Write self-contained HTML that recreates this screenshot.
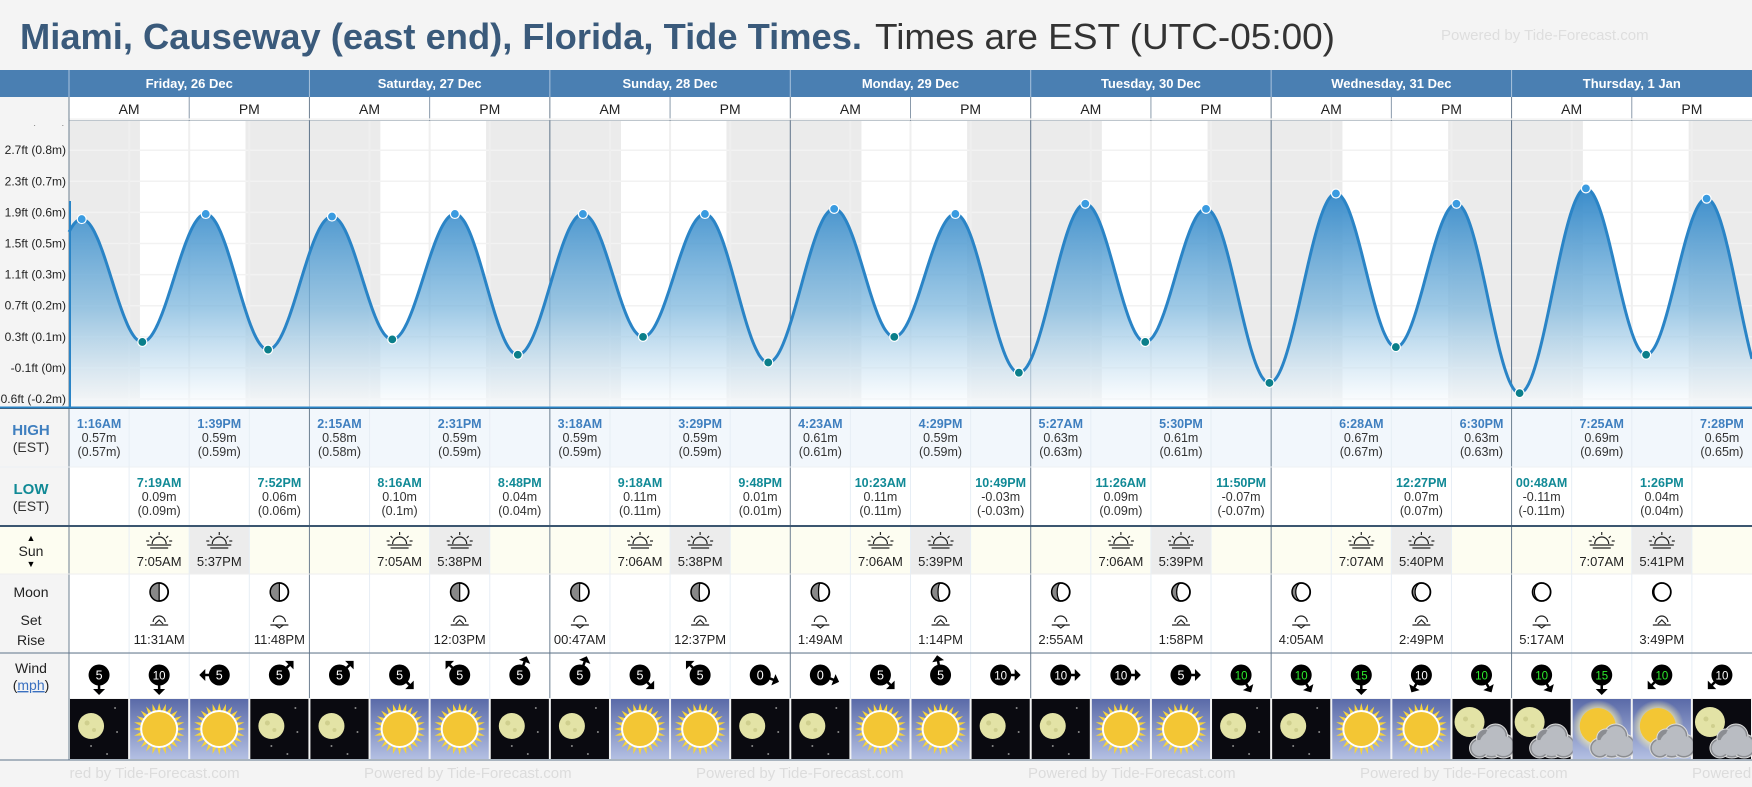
<!DOCTYPE html>
<html><head><meta charset="utf-8">
<style>
html,body{margin:0;padding:0;background:#f4f4f4;}
svg{display:block;font-family:"Liberation Sans",sans-serif;}
</style></head>
<body>
<svg id="c" width="1752" height="787" viewBox="0 0 1752 787" xmlns="http://www.w3.org/2000/svg">
<defs>
<linearGradient id="tfill" x1="0" y1="0" x2="0" y2="1">
<stop offset="0" stop-color="#2f86c8" stop-opacity="0.95"/>
<stop offset="0.55" stop-color="#7fb8de" stop-opacity="0.75"/>
<stop offset="1" stop-color="#ffffff" stop-opacity="0.6"/>
</linearGradient>
<linearGradient id="dsky" x1="0" y1="0" x2="0" y2="1">
<stop offset="0" stop-color="#5a6aa8"/><stop offset="1" stop-color="#b3bfe2"/>
</linearGradient>
<radialGradient id="sunglow"><stop offset="0.5" stop-color="#fff6b0"/><stop offset="1" stop-color="#fff6b0" stop-opacity="0"/></radialGradient>
</defs>
<rect x="0" y="0" width="1752" height="787" fill="#f4f4f4"/>
<text x="20" y="49" font-size="36" font-weight="bold" fill="#3a5a7b" textLength="842" lengthAdjust="spacingAndGlyphs">Miami, Causeway (east end), Florida, Tide Times.</text>
<text x="875" y="49" font-size="36" fill="#333" textLength="460" lengthAdjust="spacingAndGlyphs">Times are EST (UTC-05:00)</text>
<text x="1441" y="40" font-size="15" fill="#dedede">Powered by Tide-Forecast.com</text>
<g id="g"></g>
</svg>
<script>
// ---- data ----
const days = ["Friday, 26 Dec","Saturday, 27 Dec","Sunday, 28 Dec","Monday, 29 Dec","Tuesday, 30 Dec","Wednesday, 31 Dec","Thursday, 1 Jan"];
const tideHours = [-4.9,1.27,7.32,13.65,19.87,26.25,32.27,38.52,44.8,51.3,57.3,63.48,69.8,76.38,82.38,88.48,94.82,101.45,107.43,113.5,119.83,126.47,132.45,138.5,144.8,151.42,157.43,163.47,169.8];
const tideMeters = [0.07,0.57,0.09,0.59,0.06,0.58,0.10,0.59,0.04,0.59,0.11,0.59,0.01,0.61,0.11,0.59,-0.03,0.63,0.09,0.61,-0.07,0.67,0.07,0.63,-0.11,0.69,0.04,0.65,-0.12];
const tideTypes = ["x","H","L","H","L","H","L","H","L","H","L","H","L","H","L","H","L","H","L","H","L","H","L","H","L","H","L","H","x"];
const tideLabels = ["","1:16AM","7:19AM","1:39PM","7:52PM","2:15AM","8:16AM","2:31PM","8:48PM","3:18AM","9:18AM","3:29PM","9:48PM","4:23AM","10:23AM","4:29PM","10:49PM","5:27AM","11:26AM","5:30PM","11:50PM","6:28AM","12:27PM","6:30PM","00:48AM","7:25AM","1:26PM","7:28PM",""];
const tickLabels = ["-0.6ft (-0.2m)","-0.1ft (0m)","0.3ft (0.1m)","0.7ft (0.2m)","1.1ft (0.3m)","1.5ft (0.5m)","1.9ft (0.6m)","2.3ft (0.7m)","2.7ft (0.8m)","3.0ft (0.9m)"];
const sunriseH = [7.08,7.08,7.10,7.10,7.10,7.12,7.12];
const sunsetH = [17.62,17.63,17.63,17.65,17.65,17.67,17.68];
const sunriseLbl = ["7:05AM","7:05AM","7:06AM","7:06AM","7:06AM","7:07AM","7:07AM"];
const sunsetLbl = ["5:37PM","5:38PM","5:38PM","5:39PM","5:39PM","5:40PM","5:41PM"];
const moonCols = [1,3,6,8,10,12,14,16,18,20,22,24,26];
const moonLbl = ["11:31AM","11:48PM","12:03PM","00:47AM","12:37PM","1:49AM","1:14PM","2:55AM","1:58PM","4:05AM","2:49PM","5:17AM","3:49PM"];
const moonRise = [1,0,1,0,1,0,1,0,1,0,1,0,1];
const moonDark = [0.5,0.5,0.5,0.48,0.45,0.4,0.36,0.3,0.26,0.2,0.15,0.1,0.06];
const windSpeed = [5,10,5,5, 5,5,5,5, 5,5,5,0, 0,5,5,10, 10,10,5,10, 10,15,10,10, 10,15,10,10];
const windDir = [0,0,90,225, 225,315,135,200, 200,315,135,290, 290,315,170,270, 270,270,270,330, 330,0,30,330, 330,0,45,45];
const windGreen = [0,0,0,0, 0,0,0,0, 0,0,0,0, 0,0,0,0, 0,0,0,1, 1,1,0,1, 1,1,1,0];
const weather = ["n","d","d","n","n","d","d","n","n","d","d","n","n","d","d","n","n","d","d","n","n","d","d","nc","nc","dc","dc","nc"];

// ---- layout ----
const NS="http://www.w3.org/2000/svg";
const G=document.getElementById('g');
const L=69, W=1752, DW=(W-L)/7, CW=DW/4;
const CT=121, CB=407;
const xH = h => L + h*DW/24;
const yM = m => 365 - m*256;
const yTick = i => 399 - 31.1*i;
function el(tag, attrs, parent, txt){
  const e=document.createElementNS(NS,tag);
  for(const k in attrs) e.setAttribute(k,attrs[k]);
  if(txt!==undefined) e.textContent=txt;
  (parent||G).appendChild(e); return e;
}
function grp(name){const g=el('g',{});


return g;}

// header
const hdr=grp('day-header');
el('rect',{x:0,y:70,width:W,height:27,fill:'#4a7fb2'},hdr);
days.forEach((d,i)=>{
  const t=el('text',{x:L+DW*i+DW/2,y:88,'font-size':13,'font-weight':'bold',fill:'#fff','text-anchor':'middle'},hdr,d);
  
  
  el('line',{x1:L+DW*i,y1:70,x2:L+DW*i,y2:97,stroke:'#a9c3dd'},hdr);
});
const ap=grp('am-pm-row');
el('rect',{x:L,y:97,width:W-L,height:24,fill:'#fff'},ap);
for(let i=0;i<14;i++){
  el('line',{x1:L+DW/2*i,y1:97,x2:L+DW/2*i,y2:121,stroke:i%2?'#8a9aab':'#6d7f91'},ap);
  const t=el('text',{x:L+DW/2*i+DW/4,y:114,'font-size':14,fill:'#222','text-anchor':'middle'},ap,i%2?'PM':'AM');
  
  
}
el('line',{x1:L,y1:121,x2:W,y2:121,stroke:'#7d8c9b'},ap);

// chart background (night shading)
const bg=grp('chart-background');
el('rect',{x:L,y:CT,width:W-L,height:CB-CT,fill:'#ebebeb'},bg);
for(let d=0;d<7;d++){
  el('rect',{x:xH(d*24+sunriseH[d]),y:CT,width:xH(sunsetH[d])-xH(sunriseH[d]),height:CB-CT,fill:'#fff'},bg);
}
for(let i=0;i<10;i++) el('line',{x1:L,y1:yTick(i),x2:W,y2:yTick(i),stroke:'#f2f2f2','stroke-width':1.5},bg);
for(let i=0;i<28;i++) el('line',{x1:L+CW*i,y1:CT,x2:L+CW*i,y2:CB,stroke:i%4?'#efefef':'#5e738a','stroke-width':i%4?2:1},bg);
// y ticks
const ax=grp('y-axis');
tickLabels.forEach((s,i)=>{
  const t=el('text',{x:66,y:yTick(i)+4,'font-size':12,fill:'#222','text-anchor':'end'},ax,s);
  
  
});
el('rect',{x:0,y:97,width:L-1,height:28,fill:'#f4f4f4'},ax);
el('line',{x1:L,y1:97,x2:L,y2:CB,stroke:'#6d7f91'},ax);

// tide curve
function tideAt(h){
  for(let i=0;i<tideHours.length-1;i++){
    if(h>=tideHours[i]&&h<=tideHours[i+1]){
      const t=(h-tideHours[i])/(tideHours[i+1]-tideHours[i]);
      const f=(1-Math.cos(Math.PI*t))/2;
      return tideMeters[i]+(tideMeters[i+1]-tideMeters[i])*f;
    }
  }
  return tideMeters[tideMeters.length-1];
}
let pts=[];
for(let x=L;x<=W;x+=1.5){const h=(x-L)*24/DW;pts.push([x,yM(tideAt(h))]);}
const line=pts.map((p,i)=>(i?'L':'M')+p[0].toFixed(1)+','+p[1].toFixed(1)).join('');
const area=el('path',{d:line+`L${W},${CB}L${L},${CB}Z`,fill:'url(#tfill)'});


const tl=el('path',{d:line,fill:'none',stroke:'#2a84c6','stroke-width':3});


el('line',{x1:L+1,y1:CT+80,x2:L+1,y2:CB,stroke:'#2a84c6','stroke-width':2});
tideHours.forEach((h,i)=>{
  if(tideTypes[i]==='x')return;
  const c=el('circle',{cx:xH(h),cy:yM(tideMeters[i]),r:4.5,fill:tideTypes[i]==='H'?'#3a9be0':'#0b7f8a',stroke:'#fff','stroke-width':1.2});
  
  
});
el('line',{x1:0,y1:CB+0.5,x2:W,y2:CB+0.5,stroke:'#2a84c6','stroke-width':2});
el('line',{x1:0,y1:CB+2,x2:W,y2:CB+2,stroke:'#3c5670','stroke-width':1.5});

// table rows
const tb=grp('tide-table');
el('rect',{x:0,y:409,width:L,height:351,fill:'#f4f4f4'},tb);
el('rect',{x:L,y:409,width:W-L,height:58,fill:'#f2f7fc'},tb);
el('rect',{x:L,y:467,width:W-L,height:59,fill:'#fff'},tb);
el('rect',{x:L,y:527,width:W-L,height:47,fill:'#fdfdf1'},tb);
el('rect',{x:0,y:527,width:L,height:47,fill:'#fdfdf1'},tb);
el('rect',{x:L,y:574,width:W-L,height:79,fill:'#fff'},tb);
el('rect',{x:L,y:654,width:W-L,height:44,fill:'#fff'},tb);
for(let d=0;d<7;d++) el('rect',{x:L+DW*d+CW*2,y:527,width:CW,height:47,fill:'#ececec'},tb);
for(let i=1;i<28;i++) el('line',{x1:L+CW*i,y1:409,x2:L+CW*i,y2:698,stroke:i%4?'#e7eef5':'#6d7f91'},tb);
el('line',{x1:L,y1:409,x2:L,y2:760,stroke:'#6d7f91'},tb);
el('line',{x1:0,y1:467,x2:W,y2:467,stroke:'#edf0f3'},tb);
el('line',{x1:0,y1:526,x2:W,y2:526,stroke:'#3c5670','stroke-width':2},tb);
el('line',{x1:0,y1:574,x2:W,y2:574,stroke:'#eeeeee'},tb);
el('line',{x1:0,y1:653,x2:W,y2:653,stroke:'#5e738a'},tb);
el('line',{x1:0,y1:760,x2:W,y2:760,stroke:'#5e738a'},tb);
// labels
function lab(x,y,s,sz,col,bold,name){const t=el('text',{x:x,y:y,'font-size':sz,fill:col,'text-anchor':'middle','font-weight':bold?'bold':'normal'},tb,s);

return t;}
lab(31,435,'HIGH',15,'#3f7fbf',1,'high-row-label');lab(31,452,'(EST)',14,'#333',0,'high-row-unit');
lab(31,494,'LOW',15,'#118a96',1,'low-row-label');lab(31,511,'(EST)',14,'#333',0,'low-row-unit');
lab(31,541,'▲',9,'#000',0,'sun-up-arrow');lab(31,556,'Sun',14,'#222',0,'sun-row-label');lab(31,567,'▼',9,'#000',0,'sun-down-arrow');
lab(31,597,'Moon',14,'#222',0,'moon-row-label');lab(31,625,'Set',14,'#222',0,'moon-set-label');lab(31,645,'Rise',14,'#222',0,'moon-rise-label');
lab(31,673,'Wind',14,'#222',0,'wind-row-label');
const wu=el('text',{x:31,y:690,'font-size':14,fill:'#222','text-anchor':'middle'},tb);


wu.innerHTML='(<tspan fill="#3a70c0" text-decoration="underline">mph</tspan>)';

// tide table entries
tideHours.forEach((h,i)=>{
  if(tideTypes[i]==='x')return;
  const col=Math.floor(h/6), cx=L+CW*col+CW/2;
  const hi=tideTypes[i]==='H', y0=hi?428:487;
  const t=lab(cx,y0,tideLabels[i],12.5,hi?'#3f7fbf':'#118a96',1,hi?'high-tide-time':'low-tide-time');
  lab(cx,y0+14,tideMeters[i].toFixed(2)+'m',12.5,'#333',0,'tide-height');
  lab(cx,y0+28,'('+(+tideMeters[i].toFixed(2))+'m)',12.5,'#333',0,'tide-height-alt');
});
// sun
function sunIcon(cx,cy,p){
  const g=el('g',{fill:'none',stroke:'#222','stroke-width':1.2},p);
  el('path',{d:`M${cx-7},${cy} A7,7 0 0 1 ${cx+7},${cy}`},g);
  el('line',{x1:cx-12,y1:cy+1,x2:cx+12,y2:cy+1},g);
  el('line',{x1:cx-9,y1:cy+4,x2:cx+9,y2:cy+4},g);
  [[0,-12,0,-9],[-9,-8,-7,-6],[9,-8,7,-6],[-13,-3,-10,-3],[13,-3,10,-3]].forEach(a=>el('line',{x1:cx+a[0],y1:cy+a[1],x2:cx+a[2],y2:cy+a[3]},g));
}
for(let d=0;d<7;d++){
  const c1=L+DW*d+CW*1.5, c2=L+DW*d+CW*2.5;
  sunIcon(c1,544,tb);sunIcon(c2,544,tb);
  lab(c1,566,sunriseLbl[d],13,'#222',0,'sunrise-time');
  lab(c2,566,sunsetLbl[d],13,'#222',0,'sunset-time');
}
// moon
moonCols.forEach((c,i)=>{
  const cx=L+CW*c+CW/2, cy=592, r=9, f=moonDark[i];
  const g=grp('moon-phase-icon');
  el('circle',{cx:cx,cy:cy,r:r,fill:'#fff',stroke:'#000','stroke-width':1.8},g);
  const rx=Math.abs(r*(1-2*f));
  el('path',{d:`M${cx},${cy-r} A${r},${r} 0 0 0 ${cx},${cy+r} A${rx},${r} 0 0 1 ${cx},${cy-r}Z`,fill:'#888',stroke:'#000','stroke-width':1.2},g);
  const m=grp(moonRise[i]?'moonrise-icon':'moonset-icon');
  const iy=622;
  el('path',{d:`M${cx-6},${iy} A6,6 0 0 1 ${cx+6},${iy}`,fill:'none',stroke:'#222','stroke-width':1.2},m);
  el('line',{x1:cx-9,y1:iy+3,x2:cx+9,y2:iy+3,stroke:'#222','stroke-width':1.2},m);
  el('path',{d:moonRise[i]?`M${cx-4},${iy+2} L${cx},${iy-2} L${cx+4},${iy+2}`:`M${cx-4},${iy+3} L${cx},${iy+6} L${cx+4},${iy+3}`,fill:'none',stroke:'#222','stroke-width':1.2},m);
  lab(cx,644,moonLbl[i],13,'#222',0,'moon-time');
});
// wind
windSpeed.forEach((v,i)=>{
  const cx=L+CW*i+CW/2, cy=675;
  const g=el('g',{});
  
  
  const a=el('g',{transform:`rotate(${windDir[i]} ${cx} ${cy})`},g);
  el('line',{x1:cx,y1:cy+8,x2:cx,y2:cy+16,stroke:'#000','stroke-width':2.5},a);
  el('path',{d:`M${cx-6},${cy+14} L${cx+6},${cy+14} L${cx},${cy+20}Z`,fill:'#000'},a);
  el('circle',{cx:cx,cy:cy,r:10.5,fill:'#000'},g);
  el('text',{x:cx,y:cy+4.5,'font-size':v>=10?11.5:12.5,fill:windGreen[i]?'#2dea2d':'#fff','text-anchor':'middle'},g,String(v));
});
// weather icons
function moonW(cx,cy,r,g){
  el('circle',{cx:cx,cy:cy,r:r,fill:'#e3e3a6'},g);
  el('circle',{cx:cx-4,cy:cy-3,r:2.5,fill:'#cfcf8e'},g);
  el('circle',{cx:cx+3,cy:cy+4,r:2,fill:'#cfcf8e'},g);
}
function sunW(cx,cy,g){
  let d='';
  for(let k=0;k<24;k++){const a=k*Math.PI/12, b=a+Math.PI/24, c=a-Math.PI/24;
    d+=`M${cx+17*Math.cos(c)},${cy+17*Math.sin(c)}L${cx+26*Math.cos(a)},${cy+26*Math.sin(a)}L${cx+17*Math.cos(b)},${cy+17*Math.sin(b)}Z`;}
  el('path',{d:d,fill:'#f7d43a'},g);
  el('circle',{cx:cx,cy:cy,r:19,fill:'#fff'},g);
  el('circle',{cx:cx,cy:cy,r:17,fill:'#f3c634'},g);
}
function cloud(cx,cy,g){
  [[0,4,14],[-12,8,10],[12,6,12],[4,-4,12],[-6,-2,9]].forEach(c=>el('circle',{cx:cx+c[0],cy:cy+c[1],r:c[2],fill:'#8b8d92',stroke:'#dcdcdc','stroke-width':1},g));
  [[0,4,12],[-12,8,8],[12,6,10],[4,-4,10]].forEach(c=>el('circle',{cx:cx+c[0],cy:cy+c[1],r:c[2],fill:'#b9bcc2'},g));
}
weather.forEach((w,i)=>{
  const x0=L+CW*i+1, cx=x0+CW/2-1, g=el('g',{});
  
  
  const night=w[0]==='n';
  el('rect',{x:x0,y:699,width:CW-2,height:60,fill:night?'#0a0a10':'url(#dsky)'},g);
  const cl=w.length>1;
  if(night){
    moonW(cl?cx-12:cx-8,cl?722:726,cl?15:13,g);
    if(!cl){[[16,-18],[18,6],[-8,20],[8,28]].forEach(s=>el('circle',{cx:cx+s[0],cy:726+s[1],r:1,fill:'#888'},g));}
  } else {
    if(cl){el('circle',{cx:cx-4,cy:726,r:26,fill:'url(#sunglow)'},g);el('circle',{cx:cx-4,cy:726,r:18,fill:'#f3c634'},g);}
    else sunW(cx,729,g);
  }
  if(cl) cloud(cx+10,740,g);
});
// footer
const ft=grp('footer');
for(let k=0;k<6;k++){
  const t=el('text',{x:-3+332*k-330+365+ (k===0?0:0),y:778,'font-size':15,fill:'#dcdcdc'},ft,'Powered by Tide-Forecast.com');
  
  
}
el('rect',{x:0,y:761,width:L,height:26,fill:'#f4f4f4'},ft);
</script>
</body></html>
